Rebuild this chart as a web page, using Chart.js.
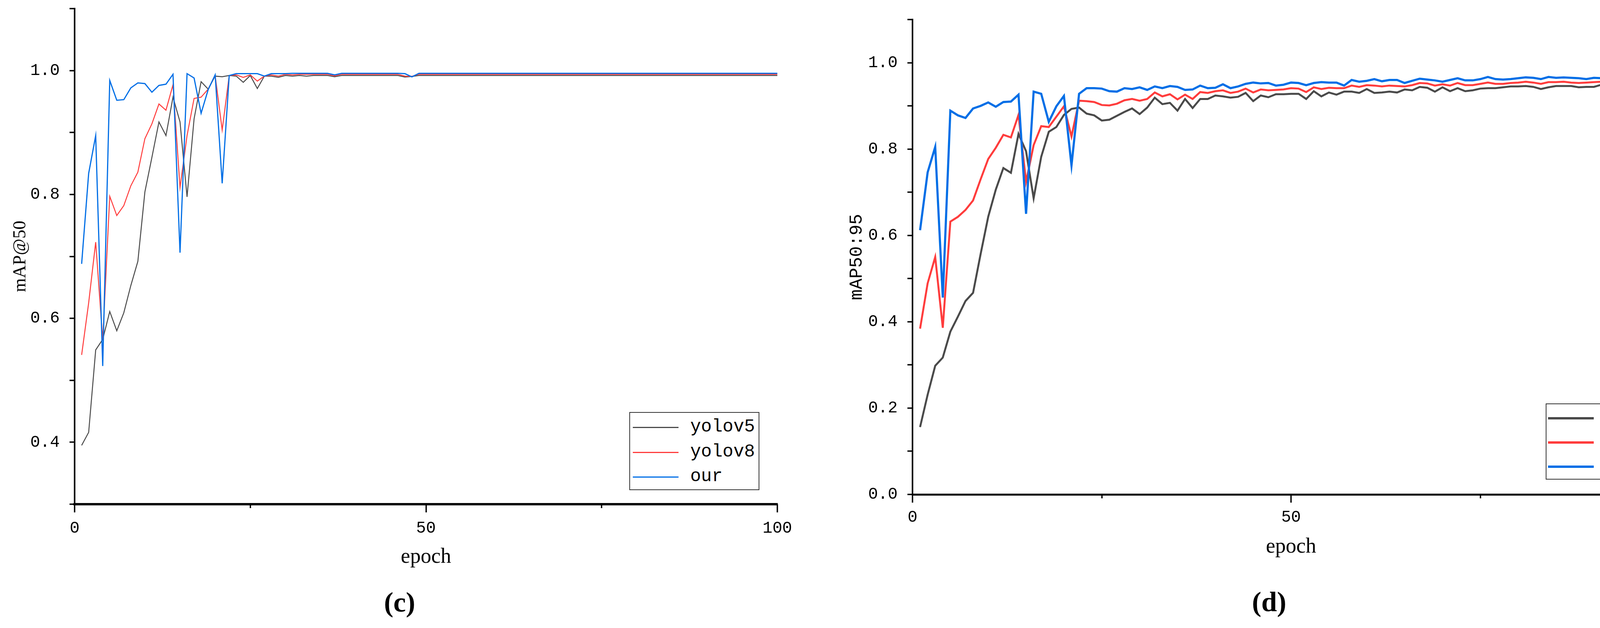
<!DOCTYPE html>
<html>
<head>
<meta charset="utf-8">
<script src="https://cdn.jsdelivr.net/npm/chart.js@4.4.1/dist/chart.umd.min.js"></script>
<style>
body { margin: 0; width: 4346px; height: 1608px; background: #fff; position: relative; overflow: hidden; }
canvas { position: absolute; }
#chartC { left: 0; top: -78px; }
#chartD { left: 2130px; top: -50px; }
.legend { position: absolute; border: 2px solid #333; background: #fff; box-sizing: border-box; }
.legend .swatch { position: absolute; }
.legend .lab { position: absolute; font-family: "Liberation Mono", monospace; font-size: 46px; line-height: 1; transform: translateY(-52%); white-space: nowrap; color: #000; }
.cap { position: absolute; font-family: "Liberation Serif", serif; font-weight: bold; font-size: 72px; transform: translate(-50%, -50%); color: #000; }
</style>
</head>
<body>
<canvas id="chartC" width="2130" height="1608"></canvas>
<canvas id="chartD" width="2216" height="1608"></canvas>
<div class="legend" id="legendC" style="left:1611px; top:1055px; width:333px; height:200px;"></div>
<div class="legend" id="legendD" style="left:3957px; top:1033px; width:324px; height:195px;"></div>
<div class="cap" style="left:1023px; top:1542px;">(c)</div>
<div class="cap" style="left:3249px; top:1541px;">(d)</div>
<script>
const epochs = Array.from({ length: 100 }, (_, i) => i + 1);
const seriesNames = ['yolov5', 'yolov8', 'our'];

// (c) mAP@50
const yolov5Map50 = [
    0.395, 0.416, 0.549, 0.566, 0.611, 0.580, 0.609, 0.653, 0.692, 0.804,
    0.860, 0.917, 0.895, 0.957, 0.917, 0.796, 0.922, 0.982, 0.970, 0.991,
    0.990, 0.992, 0.991, 0.981, 0.992, 0.971, 0.991, 0.991, 0.989, 0.992,
    0.991, 0.992, 0.991, 0.992, 0.992, 0.992, 0.990, 0.992, 0.992, 0.992,
    0.992, 0.992, 0.992, 0.992, 0.992, 0.992, 0.9895, 0.9905, 0.992, 0.992,
    0.992, 0.992, 0.992, 0.992, 0.992, 0.992, 0.992, 0.992, 0.992, 0.992,
    0.992, 0.992, 0.992, 0.992, 0.992, 0.992, 0.992, 0.992, 0.992, 0.992,
    0.992, 0.992, 0.992, 0.992, 0.992, 0.992, 0.992, 0.992, 0.992, 0.992,
    0.992, 0.992, 0.992, 0.992, 0.992, 0.992, 0.992, 0.992, 0.992, 0.992,
    0.992, 0.992, 0.992, 0.992, 0.992, 0.992, 0.992, 0.992, 0.992, 0.992
];
const yolov8Map50 = [
    0.541, 0.625, 0.723, 0.565, 0.797, 0.766, 0.782, 0.814, 0.836, 0.890,
    0.914, 0.946, 0.936, 0.977, 0.811, 0.895, 0.955, 0.957, 0.970, 0.992,
    0.904, 0.992, 0.993, 0.989, 0.993, 0.983, 0.991, 0.993, 0.991, 0.994,
    0.993, 0.994, 0.994, 0.994, 0.994, 0.994, 0.9915, 0.994, 0.994, 0.994,
    0.994, 0.994, 0.994, 0.994, 0.994, 0.994, 0.991, 0.9906, 0.994, 0.994,
    0.994, 0.994, 0.994, 0.994, 0.994, 0.994, 0.994, 0.994, 0.994, 0.994,
    0.994, 0.994, 0.994, 0.994, 0.994, 0.994, 0.994, 0.994, 0.994, 0.994,
    0.994, 0.994, 0.994, 0.994, 0.994, 0.994, 0.994, 0.994, 0.994, 0.994,
    0.994, 0.994, 0.994, 0.994, 0.994, 0.994, 0.994, 0.994, 0.994, 0.994,
    0.994, 0.994, 0.994, 0.994, 0.994, 0.994, 0.994, 0.994, 0.994, 0.994
];
const ourMap50 = [
    0.688, 0.834, 0.895, 0.523, 0.984, 0.952, 0.953, 0.972, 0.980, 0.979,
    0.965, 0.976, 0.978, 0.994, 0.706, 0.995, 0.988, 0.931, 0.969, 0.993,
    0.818, 0.992, 0.995, 0.995, 0.995, 0.995, 0.991, 0.995, 0.995, 0.995,
    0.9955, 0.9955, 0.9955, 0.9955, 0.9955, 0.9955, 0.993, 0.9955, 0.9955, 0.9955,
    0.9955, 0.9955, 0.9955, 0.9955, 0.9955, 0.9955, 0.995, 0.9898, 0.9955, 0.9955,
    0.9955, 0.9955, 0.9955, 0.9955, 0.9955, 0.9955, 0.9955, 0.9955, 0.9955, 0.9955,
    0.9955, 0.9955, 0.9955, 0.9955, 0.9955, 0.9955, 0.9955, 0.9955, 0.9955, 0.9955,
    0.9955, 0.9955, 0.9955, 0.9955, 0.9955, 0.9955, 0.9955, 0.9955, 0.9955, 0.9955,
    0.9955, 0.9955, 0.9955, 0.9955, 0.9955, 0.9955, 0.9955, 0.9955, 0.9955, 0.9955,
    0.9955, 0.9955, 0.9955, 0.9955, 0.9955, 0.9955, 0.9955, 0.9955, 0.9955, 0.9955
];

// (d) mAP50:95
const yolov5Map5095 = [
    0.156, 0.231, 0.298, 0.317, 0.377, 0.412, 0.448, 0.467, 0.557, 0.643,
    0.706, 0.756, 0.745, 0.835, 0.795, 0.686, 0.782, 0.840, 0.851, 0.879,
    0.893, 0.896, 0.882, 0.878, 0.866, 0.868, 0.877, 0.886, 0.894, 0.881,
    0.896, 0.919, 0.904, 0.907, 0.889, 0.916, 0.895, 0.916, 0.916, 0.924,
    0.922, 0.919, 0.921, 0.930, 0.911, 0.924, 0.920, 0.927, 0.927, 0.928,
    0.928, 0.916, 0.934, 0.922, 0.931, 0.926, 0.933, 0.933, 0.930, 0.939,
    0.930, 0.931, 0.933, 0.931, 0.938, 0.936, 0.944, 0.942, 0.933, 0.943,
    0.934, 0.941, 0.934, 0.936, 0.940, 0.941, 0.941, 0.943, 0.945, 0.945,
    0.946, 0.944, 0.939, 0.943, 0.946, 0.946, 0.946, 0.943, 0.944, 0.944,
    0.949, 0.947, 0.947, 0.948, 0.948, 0.947, 0.948, 0.947, 0.948, 0.949
];
const yolov8Map5095 = [
    0.384, 0.489, 0.550, 0.386, 0.632, 0.643, 0.659, 0.681, 0.730, 0.777,
    0.803, 0.833, 0.827, 0.879, 0.724, 0.809, 0.853, 0.851, 0.875, 0.899,
    0.829, 0.912, 0.911, 0.909, 0.902, 0.901, 0.905, 0.913, 0.916, 0.912,
    0.916, 0.931, 0.922, 0.927, 0.915, 0.926, 0.916, 0.932, 0.930, 0.934,
    0.936, 0.930, 0.933, 0.940, 0.931, 0.938, 0.936, 0.937, 0.938, 0.941,
    0.940, 0.932, 0.943, 0.939, 0.942, 0.941, 0.941, 0.947, 0.944, 0.948,
    0.947, 0.945, 0.947, 0.946, 0.945, 0.948, 0.953, 0.952, 0.947, 0.950,
    0.947, 0.953, 0.948, 0.948, 0.951, 0.954, 0.951, 0.951, 0.953, 0.954,
    0.956, 0.954, 0.951, 0.955, 0.955, 0.956, 0.954, 0.953, 0.954, 0.955,
    0.956, 0.956, 0.956, 0.957, 0.956, 0.956, 0.957, 0.956, 0.956, 0.957
];
const ourMap5095 = [
    0.612, 0.746, 0.805, 0.456, 0.889, 0.878, 0.872, 0.894, 0.900, 0.908,
    0.898, 0.909, 0.910, 0.926, 0.650, 0.933, 0.928, 0.863, 0.899, 0.923,
    0.762, 0.928, 0.941, 0.941, 0.940, 0.934, 0.933, 0.941, 0.939, 0.943,
    0.937, 0.945, 0.941, 0.946, 0.944, 0.937, 0.938, 0.947, 0.941, 0.942,
    0.950, 0.941, 0.945, 0.951, 0.954, 0.952, 0.953, 0.947, 0.949, 0.954,
    0.953, 0.948, 0.953, 0.955, 0.954, 0.954, 0.947, 0.960, 0.956, 0.958,
    0.962, 0.957, 0.960, 0.960, 0.953, 0.958, 0.963, 0.961, 0.959, 0.956,
    0.960, 0.964, 0.959, 0.959, 0.962, 0.967, 0.962, 0.961, 0.962, 0.964,
    0.966, 0.965, 0.962, 0.967, 0.965, 0.966, 0.965, 0.964, 0.962, 0.965,
    0.964, 0.966, 0.965, 0.966, 0.964, 0.967, 0.968, 0.965, 0.965, 0.965
];

// tick labels
const xTickLabels = [0, 50, 100];
const yTickLabelsC = [0.4, 0.6, 0.8, 1.0];
const yTickLabelsD = [0.0, 0.2, 0.4, 0.6, 0.8, 1.0];

const lineColors = ['#4a4a4a', '#ff3c3c', '#006ee6'];

function hasLabel(list, v) {
    return list.some(l => Math.abs(l - v) < 1e-6);
}

// draws the outside tick marks, short for unlabeled x ticks
const tickMarks = {
    id: 'tickMarks',
    afterDraw(chart, args, opts) {
        const ctx = chart.ctx;
        const area = chart.chartArea;
        const xs = chart.scales.x;
        const ys = chart.scales.y;
        ctx.save();
        ctx.strokeStyle = '#000';
        ctx.lineWidth = opts.width;
        xs.ticks.forEach(t => {
            const px = Math.round(xs.getPixelForValue(t.value));
            const len = hasLabel(xTickLabels, t.value) ? opts.xMajor : opts.xMinor;
            ctx.beginPath();
            ctx.moveTo(px, area.bottom);
            ctx.lineTo(px, area.bottom + len);
            ctx.stroke();
        });
        ys.ticks.forEach(t => {
            const py = Math.round(ys.getPixelForValue(t.value));
            ctx.beginPath();
            ctx.moveTo(area.left, py);
            ctx.lineTo(area.left - opts.yLen, py);
            ctx.stroke();
        });
        ctx.restore();
    }
};

function makeChart(id, cfg) {
    const sets = [cfg.y5, cfg.y8, cfg.our].map((arr, i) => ({
        label: seriesNames[i],
        data: epochs.map((e, k) => ({ x: e, y: arr[k] })),
        borderColor: lineColors[i],
        borderWidth: cfg.widths[i],
        pointRadius: 0,
        tension: 0,
        fill: false,
        order: 2 - i
    }));

    return new Chart(document.getElementById(id).getContext('2d'), {
        type: 'line',
        data: { datasets: sets },
        options: {
            responsive: false,
            animation: false,
            devicePixelRatio: 1,
            layout: { padding: cfg.padding },
            plugins: {
                legend: { display: false },
                tooltip: { enabled: false },
                tickMarks: { width: 3.5, xMajor: 21, xMinor: 10, yLen: 13 }
            },
            scales: {
                x: {
                    type: 'linear',
                    min: 0,
                    max: 100,
                    afterFit: s => { s.height = 200; },
                    grid: { display: false, drawTicks: false },
                    border: { display: true, color: '#000', width: cfg.xBorder },
                    ticks: {
                        stepSize: 25,
                        autoSkip: false,
                        maxRotation: 0,
                        padding: cfg.xTickPad,
                        color: '#000',
                        font: { family: 'Liberation Mono', size: 42 },
                        callback: v => hasLabel(xTickLabels, v) ? String(v) : ''
                    },
                    title: {
                        display: true,
                        text: 'epoch',
                        color: '#000',
                        font: { family: 'Liberation Serif', size: 54 },
                        padding: { top: 0, bottom: cfg.xTitlePad }
                    }
                },
                y: {
                    min: cfg.yMin,
                    max: 1.1,
                    afterFit: s => { s.width = cfg.yWidth; },
                    grid: { display: false, drawTicks: false },
                    border: { display: true, color: '#000', width: 4 },
                    ticks: {
                        stepSize: 0.1,
                        autoSkip: false,
                        padding: 38,
                        color: '#000',
                        font: { family: 'Liberation Mono', size: 42 },
                        callback: v => hasLabel(cfg.yLabels, v) ? v.toFixed(1) : ''
                    },
                    title: {
                        display: true,
                        text: cfg.yTitle,
                        color: '#000',
                        font: cfg.yTitleFont,
                        padding: { top: cfg.yTitlePad, bottom: 0 }
                    }
                }
            }
        },
        plugins: [tickMarks]
    });
}

function makeLegend(chart, elId, rows, swatchX, swatchW, swatchH, textX) {
    const box = document.getElementById(elId);
    chart.data.datasets.forEach((ds, i) => {
        const sw = document.createElement('div');
        sw.className = 'swatch';
        sw.style.left = swatchX + 'px';
        sw.style.top = (rows[i] - swatchH / 2) + 'px';
        sw.style.width = swatchW + 'px';
        sw.style.height = swatchH + 'px';
        sw.style.background = ds.borderColor;
        box.appendChild(sw);

        const lab = document.createElement('div');
        lab.className = 'lab';
        lab.style.left = textX + 'px';
        lab.style.top = rows[i] + 'px';
        lab.textContent = ds.label;
        box.appendChild(lab);
    });
}

// canvases are shifted up (CSS top) so the top padding wins over the y tick overhang
const chartC = makeChart('chartC', {
    y5: yolov5Map50, y8: yolov8Map50, our: ourMap50,
    widths: [2.5, 2.5, 3],
    padding: { left: 0, right: 140, top: 100, bottom: 39 },
    yMin: 0.3,
    yWidth: 191,
    yLabels: yTickLabelsC,
    yTitle: 'mAP@50',
    yTitleFont: { family: 'Liberation Serif', size: 46 },
    yTitlePad: 25,
    xBorder: 6,
    xTickPad: 37,
    xTitlePad: 32
});

const chartD = makeChart('chartD', {
    y5: yolov5Map5095, y8: yolov8Map5095, our: ourMap5095,
    widths: [5, 5, 5.5],
    padding: { left: 0, right: 50, top: 100, bottom: 92 },
    yMin: 0,
    yWidth: 206,
    yLabels: yTickLabelsD,
    yTitle: 'mAP50:95',
    yTitleFont: { family: 'Liberation Mono', size: 46 },
    yTitlePad: 36,
    xBorder: 5,
    xTickPad: 34,
    xTitlePad: 33
});

makeLegend(chartC, 'legendC', [37, 101, 164], 7, 117, 3, 154);
makeLegend(chartD, 'legendD', [36, 98, 160], 4, 117, 6, 149);
</script>
</body>
</html>
